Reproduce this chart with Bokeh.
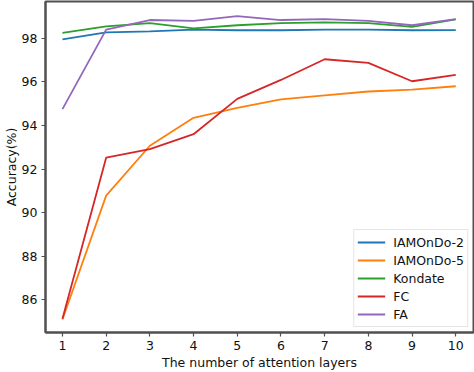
from bokeh.plotting import figure
from bokeh.models import Range1d, Legend, LegendItem, FixedTicker
from bokeh.embed import file_html
from bokeh.resources import INLINE

layers = [1, 2, 3, 4, 5, 6, 7, 8, 9, 10]
iamondo2 = [97.95, 98.27, 98.32, 98.40, 98.37, 98.37, 98.40, 98.40, 98.37, 98.38]
iamondo5 = [85.10, 90.78, 93.07, 94.35, 94.81, 95.20, 95.38, 95.56, 95.65, 95.80]
kondate = [98.25, 98.55, 98.70, 98.46, 98.60, 98.70, 98.73, 98.70, 98.53, 98.87]
fc = [85.13, 92.52, 92.92, 93.60, 95.22, 96.09, 97.04, 96.87, 96.03, 96.32]
fa = [94.75, 98.40, 98.84, 98.80, 99.02, 98.84, 98.88, 98.80, 98.60, 98.88]
names = ["IAMOnDo-2", "IAMOnDo-5", "Kondate", "FC", "FA"]
colors = ["#1f77b4", "#ff7f0e", "#2ca02c", "#d62728", "#9467bd"]
yticks = [86, 88, 90, 92, 94, 96, 98]

FONT = "DejaVu Sans"
FS = "12.5px"
AX = "#505050"

p = figure(width=474, height=372, output_backend="svg", toolbar_location=None,
           x_range=Range1d(0.612, 10.406), y_range=Range1d(84.5, 99.69),
           min_border_left=44, min_border_top=1, min_border_right=1, min_border_bottom=39)
p.outline_line_color = AX
p.outline_line_width = 2
p.xgrid.visible = False
p.ygrid.visible = False

for ax in (p.xaxis[0], p.yaxis[0]):
    ax.axis_line_color = AX
    ax.axis_line_width = 2
    ax.major_tick_line_color = AX
    ax.major_tick_line_width = 1.2
    ax.major_tick_out = 4
    ax.major_tick_in = 0
    ax.minor_tick_line_color = None
    ax.major_label_text_font = FONT
    ax.major_label_text_font_size = FS
    ax.major_label_text_color = "#111111"
    ax.axis_label_text_font = FONT
    ax.axis_label_text_font_size = FS
    ax.axis_label_text_font_style = "normal"
    ax.axis_label_text_color = "#111111"
    ax.major_label_standoff = 4
    ax.axis_label_standoff = 2

p.yaxis[0].axis_label_standoff = 0
p.xaxis.ticker = FixedTicker(ticks=layers)
p.yaxis.ticker = FixedTicker(ticks=yticks)
p.xaxis.axis_label = "The number of attention layers"
p.yaxis.axis_label = "Accuracy(%)"

series = [iamondo2, iamondo5, kondate, fc, fa]
items = []
for name, col, ys in zip(names, colors, series):
    r = p.line(layers, ys, line_color=col, line_width=1.8)
    items.append(LegendItem(label=name, renderers=[r]))

legend = Legend(items=items, location="bottom_right")
legend.label_text_font = FONT
legend.label_text_font_size = FS
legend.label_text_color = "#111111"
legend.glyph_width = 28
legend.glyph_height = 18
legend.label_height = 18
legend.label_standoff = 8
legend.spacing = 0
legend.padding = 3
legend.margin = 5
legend.border_line_color = "#cccccc"
legend.border_line_width = 1
legend.background_fill_alpha = 0.9
p.add_layout(legend)

open("out.html", "w").write(file_html(p, INLINE))
